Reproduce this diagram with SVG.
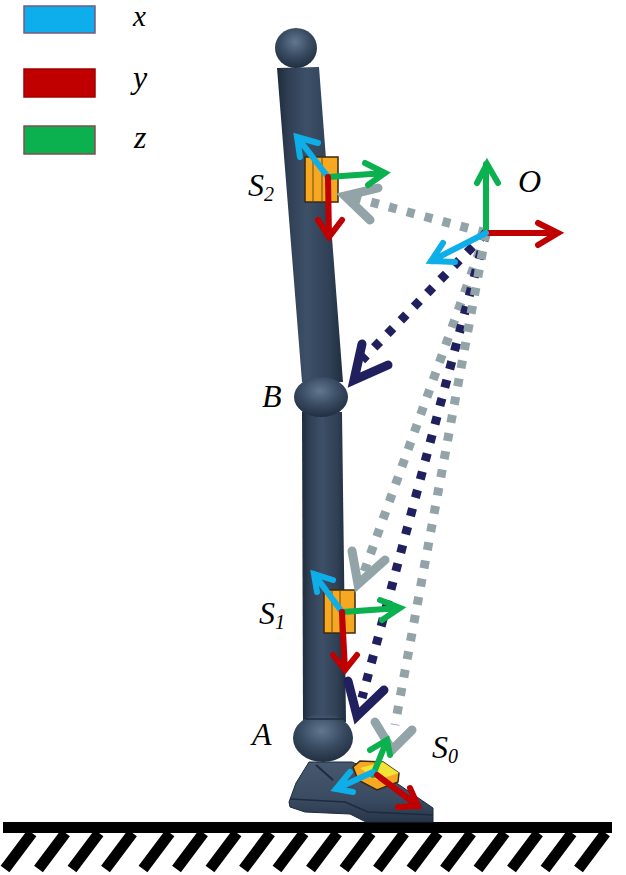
<svg xmlns="http://www.w3.org/2000/svg" width="626" height="875" viewBox="0 0 626 875">
<style>
.t{font-family:"Liberation Serif","Times New Roman",serif;font-style:italic;font-size:32px;fill:#000}
.sub{font-size:20px}
.ax{fill:none;stroke-width:6;stroke-linejoin:miter;stroke-linecap:round}
.b{stroke:#0eaee8}.r{stroke:#c00000}.g{stroke:#0bb04f}
.dg{fill:none;stroke:#93a4a8;stroke-width:9;stroke-dasharray:8 10.500}
.dn{fill:none;stroke:#20205f;stroke-width:9;stroke-dasharray:8 11}
.hg{fill:none;stroke:#93a4a8;stroke-width:9;stroke-linecap:round;stroke-linejoin:miter}
.hn{fill:none;stroke:#20205f;stroke-width:9;stroke-linecap:round;stroke-linejoin:miter}
.box{fill:#f7a823;stroke:#3a2a10;stroke-width:1.5}
.leg{stroke-width:1.5}
</style>
<defs>
<linearGradient id="shaft" x1="0" x2="1" y1="0" y2="0">
<stop offset="0" stop-color="#1e2b3c"/><stop offset=".18" stop-color="#303f54"/><stop offset=".45" stop-color="#3d5068"/><stop offset=".8" stop-color="#304055"/><stop offset="1" stop-color="#202d3f"/>
</linearGradient>
<radialGradient id="ball" cx=".48" cy=".35" r=".65">
<stop offset="0" stop-color="#62788f"/><stop offset=".5" stop-color="#3c4f66"/><stop offset="1" stop-color="#222f41"/>
</radialGradient>
<linearGradient id="foot" x1="0" x2="0" y1="0" y2="1">
<stop offset="0" stop-color="#46586e"/><stop offset=".6" stop-color="#3b4c62"/><stop offset="1" stop-color="#27354a"/>
</linearGradient>
</defs>

<g id="legend">
<rect class="leg" x="24" y="6" width="71" height="27" fill="#0eaeec" stroke="#7a5a80"/>
<rect class="leg" x="24" y="69" width="71" height="28" fill="#c00000" stroke="#a00000"/>
<rect class="leg" x="24" y="126" width="71" height="28" fill="#0bb04f" stroke="#8a4a50"/>
<text class="t" x="133" y="26" style="font-size:29px">x</text>
<text class="t" x="133" y="88">y</text>
<text class="t" x="134" y="148">z</text>
</g>

<g id="ground">
<rect x="3" y="822" width="609" height="11" fill="#000"/>
<path d="M32 833L5 869M65.500 833L38.500 869M99 833L72 869M132.500 833L105.500 869M170 833L143 869M203.500 833L176.500 869M237 833L210 869M270.500 833L243.500 869M304 833L277 869M337.500 833L310.500 869M371 833L344 869M404.500 833L377.500 869M438 833L411 869M471.500 833L444.500 869M505 833L478 869M538.500 833L511.500 869M572 833L545 869M605.500 833L578.500 869" stroke="#000" stroke-width="11" fill="none"/>
</g>

<g id="robot">
<path d="M289 802L296 783L309 762L352 762L395 782L433 808L433 822L366 822L350 814L305 812L290 807Z" fill="url(#foot)" stroke="#1f2b3c" stroke-width="1"/>
<path d="M290 799L345 802L368 812L433 815" fill="none" stroke="#1f2b3c" stroke-width="1.500"/>
<path d="M316 765L333 780" fill="none" stroke="#1f2b3c" stroke-width="2"/>
<path d="M277 68L319 67L343 382L302 382Z" fill="url(#shaft)"/>
<path d="M302 412L342 412L346 722L303 722Z" fill="url(#shaft)"/>
<ellipse cx="296" cy="48" rx="21" ry="20" fill="url(#ball)"/>
<ellipse cx="321" cy="397" rx="27" ry="20" fill="url(#ball)"/>
<ellipse cx="323" cy="738" rx="30" ry="24" fill="url(#ball)"/>
<path d="M305 719H344" stroke="#1f2b3c" stroke-width="1.500" fill="none"/>
</g>

<g id="sensor-s2">
<rect class="box" x="305" y="157" width="33" height="45"/>
<path d="M313 157V202M322 157V202" stroke="#6a4a10" stroke-width="1" fill="none"/>
</g>
<g id="sensor-s1">
<rect class="box" x="324" y="590" width="31" height="43"/>
<path d="M332 590V633M340 590V633" stroke="#6a4a10" stroke-width="1" fill="none"/>
</g>
<g id="sensor-s0">
<path class="box" d="M353 767L360 761L383 762L399 773L398 782L377 790L358 780Z"/>
<path d="M360 768L383 762L399 773L377 780Z" fill="#f2e437"/>
</g>

<g id="connectors">
<path class="dg" d="M486 233L352 197"/>
<path class="hg" d="M378 188L345 196L370 220"/>
<path class="dn" d="M486 233L362 360"/>
<path class="hn" d="M362 344L354 380L388 365"/>
<path class="dg" d="M486 233L364 572"/>
<path class="hg" d="M352 551L358 584L385 560"/>
<path class="dn" d="M486 233L362 698"/>
<path class="hn" d="M348 681L357 716L384 690"/>
<path class="dg" d="M486 233L395 725"/>
<path class="hg" d="M375 722L392 750L412 730"/>

<path class="ax g" d="M486 233V164M477 183L487 164L498 183"/>
<path class="ax r" d="M486 233H558M538 223L558 233L538 245"/>
<path class="ax b" d="M486 233L431 261M443 243L431 261L455 262"/>

<path class="ax b" d="M328 177L297 137M318 143L297 137L300 157"/>
<path class="ax g" d="M328 177L385 173M365 163L385 173L368 185"/>
<path class="ax r" d="M328 177L329 237M318 220L329 237L342 220"/>

<path class="ax b" d="M342 612L314 574M333 580L314 574L317 592"/>
<path class="ax g" d="M342 612L400 608M380 600L400 608L382 620"/>
<path class="ax r" d="M342 612L345 670M333 655L345 670L357 655"/>

<path class="ax g" d="M373 775L387 740M370 750L387 740L390 755"/>
<path class="ax b" d="M373 772L336 789M350 772L336 789L353 792"/>
<path class="ax r" d="M377 775L418 806M398 807L418 806L410 788"/>
</g>

<g id="labels">
<text class="t" x="248" y="196">S<tspan class="sub" dy="5">2</tspan></text>
<text class="t" x="518" y="192">O</text>
<text class="t" x="262" y="407">B</text>
<text class="t" x="259" y="624">S<tspan class="sub" dy="5">1</tspan></text>
<text class="t" x="252" y="745">A</text>
<text class="t" x="432" y="758">S<tspan class="sub" dy="5">0</tspan></text>
</g>
</svg>
